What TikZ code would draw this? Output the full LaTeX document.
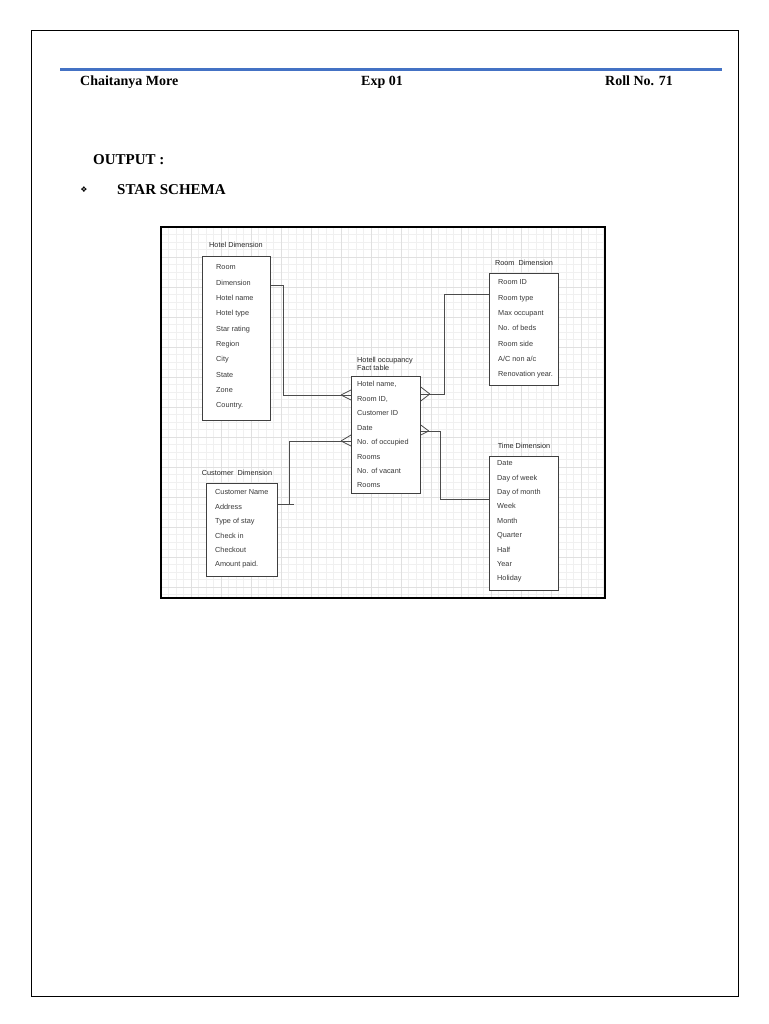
\documentclass[tikz,border=0pt]{standalone}
\usepackage{fontspec}
\setmainfont{Liberation Serif}
\newfontfamily\arialf{Liberation Sans}
\newfontfamily\djv{DejaVu Sans}
\begin{document}
\begin{tikzpicture}[x=1pt,y=-1pt,
  hdr/.style={font=\bfseries\fontsize{14}{16}\selectfont, anchor=base west, inner sep=0pt},
  sec/.style={font=\bfseries\fontsize{15}{17}\selectfont, anchor=base west, inner sep=0pt},
  tbl/.style={draw=black!75, fill=white, line width=0.8pt, anchor=north west, inner sep=0pt},
  item/.style={font=\arialf\fontsize{7.3}{8.6}\selectfont, text=black!78, anchor=west, inner sep=0pt, text height=5.2pt, text depth=1.5pt},
  ttl/.style={font=\arialf\fontsize{7.3}{8.6}\selectfont, text=black!85, inner sep=0pt, text height=5.2pt, text depth=1.5pt},
  conn/.style={draw=black!70, line width=0.8pt},
  gridminor/.style={draw=black!6, line width=0.4pt},
  gridmajor/.style={draw=black!12, line width=0.5pt}]
\useasboundingbox (0,0) rectangle (768,1024);
\fill[white] (0,0) rectangle (768,1024);
% page border
\draw[line width=0.9pt] (31,30) rectangle (738,996);
% header
\draw[line width=3pt, draw={rgb,255:red,68;green,114;blue,196}] (60,70) -- (722,70);
\node[hdr] (name) at (80,86) {Chaitanya More};
\node[hdr] (exp) at (361,86) {Exp 01};
\node[hdr] (roll) at (605,86) {Roll No. 71};
\node[sec] (out) at (93,165) {OUTPUT :};
\node[font=\djv\fontsize{8}{9}\selectfont, inner sep=0pt] (bul) at (84,190) {❖};
\node[sec] (star) at (117,195) {STAR SCHEMA};
% diagram frame with grid
\begin{scope}
\clip (161,227) rectangle (605,598);
\foreach \gx in {0,...,60} {\draw[gridminor] (161+7.5*\gx,227) -- (161+7.5*\gx,598);}
\foreach \gy in {0,...,50} {\draw[gridminor] (161,227+7.5*\gy) -- (605,227+7.5*\gy);}
\foreach \gx in {0,...,15} {\draw[gridmajor] (161+30*\gx,227) -- (161+30*\gx,598);}
\foreach \gy in {0,...,13} {\draw[gridmajor] (161,227+30*\gy) -- (605,227+30*\gy);}
\end{scope}
\draw[line width=2pt] (161,227) rectangle (605,598);
% tables
\node[tbl, minimum width=68, minimum height=164] (hotel) at (202,256) {};
\node[tbl, minimum width=69, minimum height=117] (fact) at (351,376) {};
\node[tbl, minimum width=69, minimum height=112] (room) at (489,273) {};
\node[tbl, minimum width=69, minimum height=134] (time) at (489,456) {};
\node[tbl, minimum width=71, minimum height=93] (cust) at (206,483) {};
% titles
\node[ttl] (hotelT) at (236,246) {Hotel Dimension};
\node[ttl, anchor=west] (factT1) at (357,361) {Hotell occupancy};
\node[ttl, anchor=west] (factT2) at (357,369) {Fact table};
\node[ttl] (roomT) at (524,264) {Room\ \ Dimension};
\node[ttl] (timeT) at (524,447) {Time Dimension};
\node[ttl] (custT) at (237,474) {Customer\ \ Dimension};
% items
\foreach \t [count=\i] in {Room, Dimension, Hotel name, Hotel type, Star rating, Region, City, State, Zone, Country.}
  \node[item] (hotel-\i) at (216,252.67+15.33*\i) {\t};
\foreach \t [count=\i] in {{Hotel name,}, {Room ID,}, Customer ID, Date, No. of occupied, Rooms, No. of vacant, Rooms}
  \node[item] (fact-\i) at (357,370.57+14.43*\i) {\t};
\foreach \t [count=\i] in {Room ID, Room type, Max occupant, No. of beds, Room side, A/C non a/c, Renovation year.}
  \node[item] (room-\i) at (498,267.67+15.33*\i) {\t};
\foreach \t [count=\i] in {Date, Day of week, Day of month, Week, Month, Quarter, Half, Year, Holiday}
  \node[item] (time-\i) at (497,449.6+14.375*\i) {\t};
\foreach \t [count=\i] in {Customer Name, Address, Type of stay, Check in, Checkout, Amount paid.}
  \node[item] (cust-\i) at (215,478.6+14.4*\i) {\t};
% connectors
% hotel -> fact
\draw[conn] ([yshift=-29pt]hotel.north east) -- ++(13,0) |- ([yshift=-19pt]fact.north west);
\draw[conn] ([yshift=-19pt]fact.north west) ++(-10,0) -- ++(10,-5);
\draw[conn] ([yshift=-19pt]fact.north west) ++(-10,0) -- ++(10,5);
% room -> fact
\draw[conn] ([yshift=-21pt]room.north west) -- ++(-45,0) |- ([yshift=-18pt]fact.north east);
\draw[conn] ([yshift=-18pt]fact.north east) ++(9,0) -- ++(-9,-7);
\draw[conn] ([yshift=-18pt]fact.north east) ++(9,0) -- ++(-9,7);
% time -> fact
\draw[conn] ([yshift=-55pt]fact.north east) -- ++(20,0) |- ([yshift=-43pt]time.north west);
\draw[conn] ([yshift=-55pt]fact.north east) ++(8,0) -- ++(-8,-6);
\draw[conn] ([yshift=-55pt]fact.north east) ++(8,0) -- ++(-8,4);
% customer -> fact
\coordinate (cend) at ([xshift=12pt,yshift=-21pt]cust.north east);
\draw[conn] ([yshift=-65pt]fact.north west) -| (cend);
\draw[conn] ([yshift=-21pt]cust.north east) -- ++(16,0);
\draw[conn] ([yshift=-65pt]fact.north west) ++(-10,0) -- ++(10,-6);
\draw[conn] ([yshift=-65pt]fact.north west) ++(-10,0) -- ++(10,5);
\end{tikzpicture}
\end{document}
